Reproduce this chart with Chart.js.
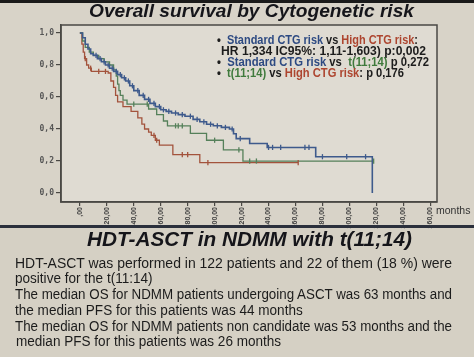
<!DOCTYPE html>
<html><head><meta charset="utf-8">
<script src="https://cdn.jsdelivr.net/npm/chart.js@4/dist/chart.umd.min.js"></script>
<style>
html,body{margin:0;padding:0;}
body{width:474px;height:357px;overflow:hidden;position:relative;background:#d8d3c8;font-family:"Liberation Sans",Arial,sans-serif;}
#top{position:absolute;left:0;top:0;width:474px;height:3px;background:#1a1a1a;}
#wrap{position:absolute;left:0;top:0;width:474px;height:232px;}
#sep{position:absolute;left:0;top:225px;width:474px;height:3px;background:#2b303c;}
#low{position:absolute;left:0;top:228px;width:474px;height:129px;background:#d5d0c4;}
.t{position:absolute;white-space:nowrap;line-height:1;color:#1c1c1c;transform-origin:0 0;}
.bi{font-weight:bold;font-style:italic;color:#15151a;}
.lg{font-weight:bold;}
.b{color:#2d4a82}.r{color:#ad452f}.g{color:#3f7a3c}
</style></head>
<body>
<div id="top"></div>
<div id="low"></div>
<div id="wrap"><canvas id="c" width="474" height="232"></canvas></div>
<div id="sep"></div>

<div class="t bi" data-w="325" data-x="89" data-b="17.5" data-fs="17.5">Overall survival by Cytogenetic risk</div>

<div class="t lg" data-w="201" data-x="217" data-b="44" data-fs="13">•&nbsp; <span class="b">Standard CTG risk</span> vs <span class="r">High CTG risk</span>:</div>
<div class="t lg" data-w="205" data-x="221" data-b="55" data-fs="13">HR 1,334 IC95%: 1,11-1,603) p:0,002</div>
<div class="t lg" data-w="212" data-x="217" data-b="66" data-fs="13">•&nbsp; <span class="b">Standard CTG risk</span> vs&nbsp; <span class="g">t(11;14)</span> p 0,272</div>
<div class="t lg" data-w="187" data-x="217" data-b="77" data-fs="13">•&nbsp; <span class="g">t(11;14)</span> vs <span class="r">High CTG risk</span>: p 0,176</div>

<div class="t" data-x="436" data-b="214" data-fs="10.5" style="color:#333">months</div>

<div class="t bi" data-w="325" data-x="87" data-b="247" data-fs="19.5">HDT-ASCT in NDMM with t(11;14)</div>
<div class="t full" data-w="437" data-x="15" data-b="268" data-fs="14">HDT-ASCT was performed in 122 patients and 22 of them (18 %) were</div>
<div class="t body" data-x="15" data-b="283" data-fs="14">positive for the t(11:14)</div>
<div class="t full" data-w="437" data-x="15" data-b="299" data-fs="14">The median OS for NDMM patients undergoing ASCT was 63 months and</div>
<div class="t body" data-x="15" data-b="315" data-fs="14">the median PFS for this patients was 44 months</div>
<div class="t full" data-w="437" data-x="15" data-b="331" data-fs="14">The median OS for NDMM patients non candidate was 53 months and the</div>
<div class="t body" data-x="16" data-b="346" data-fs="14">median PFS for this patients was 26 months</div>

<script>
// ---- data (months, survival) ----
const standardTimes = [0,2,4,6,8,10,13,16,19,22,25,28,31,34,37,40,44,48,52,56,60,64,68,73,78,84,89,94,99,105,111,114,116,126,139,175,217];
const standardSurv  = [1.0,0.97,0.93,0.90,0.87,0.86,0.84,0.82,0.80,0.78,0.76,0.74,0.72,0.70,0.67,0.64,0.61,0.585,0.56,0.54,0.52,0.51,0.50,0.49,0.48,0.46,0.445,0.43,0.42,0.41,0.40,0.37,0.34,0.31,0.285,0.227,0.0];
const t1114Times = [0,2,4,7,10,14,18,22,25,27,28,29,30,32,35,51,57,62,65,82,94,106.5,121,218];
const t1114Surv  = [1.0,0.95,0.91,0.88,0.86,0.84,0.82,0.80,0.77,0.73,0.68,0.64,0.61,0.58,0.555,0.525,0.49,0.45,0.42,0.373,0.33,0.27,0.20,0.20];
const highTimes = [0,1.5,2.5,3.5,5,6.5,8.5,21,23,25,26.5,28,32,38,43,46,48,51,53,56,59,69,89,162];
const highSurv  = [1.0,0.93,0.88,0.84,0.80,0.78,0.76,0.75,0.70,0.66,0.61,0.57,0.54,0.51,0.47,0.43,0.40,0.38,0.36,0.33,0.30,0.24,0.19,0.19];

// censoring marks (months, survival)
const standardCensTimes = [12,15,18,21,24,27,30,33,36,39,43,47,51,55,59,62,66,71,76,82,87,92,97,102,108,113,119,140,143,149,167,170,180,198,212];
const standardCensSurv  = [0.86,0.84,0.82,0.80,0.78,0.76,0.74,0.72,0.70,0.67,0.64,0.61,0.585,0.56,0.54,0.52,0.51,0.50,0.49,0.48,0.46,0.445,0.43,0.42,0.41,0.40,0.34,0.285,0.285,0.285,0.285,0.285,0.227,0.227,0.227];
const t1114CensTimes = [40,50,71,73,76,100,118,126,131,218];
const t1114CensSurv  = [0.555,0.555,0.42,0.42,0.42,0.33,0.27,0.20,0.20,0.20];
const highCensTimes = [4,8,14,19,55,57,76,80,95,162];
const highCensSurv  = [0.84,0.78,0.76,0.76,0.36,0.33,0.24,0.24,0.19,0.19];

// axis ticks
const xTickValues = [0,20,40,60,80,100,120,140,160,180,200,220,240,260];
const xTickLabels = [",00","20,00","40,00","60,00","80,00","100,00","120,00","140,00","160,00","180,00","200,00","220,00","240,00","260,00"];
const yTickValues = [0,0.2,0.4,0.6,0.8,1.0];
const yTickLabels = ["0,0","0,2","0,4","0,6","0,8","1,0"];

const seriesColors = {standard:'#3e5a8c', t1114:'#55805a', high:'#a3533c'};

const pts = (xs, ys) => xs.map((x,i)=>({x:x, y:ys[i]}));

function kmSet(label, xs, ys, color, w){
  return {label, data:pts(xs,ys), borderColor:color, borderWidth:w, stepped:true,
          pointRadius:0, fill:false, showLine:true, order:2};
}
function censSet(label, xs, ys, color){
  return {label, data:pts(xs,ys), borderColor:color, backgroundColor:color, showLine:false,
          pointStyle:'line', rotation:90, pointRadius:2.6, pointBorderWidth:1.3, pointHoverRadius:0, order:1};
}

const framePlugin = {
  id:'frame',
  beforeDraw(chart){
    const a = chart.chartArea, ctx = chart.ctx;
    ctx.save(); ctx.fillStyle = '#dfdbd2'; ctx.fillRect(a.left, a.top, a.right-a.left, a.bottom-a.top); ctx.restore();
  },
  afterDraw(chart){
    const a = chart.chartArea, ctx = chart.ctx;
    ctx.save(); ctx.strokeStyle = '#4a4844'; ctx.lineWidth = 1.5;
    ctx.strokeRect(a.left, a.top, a.right-a.left, a.bottom-a.top); ctx.restore();
  }
};

new Chart(document.getElementById('c'), {
  type:'line',
  data:{datasets:[
    kmSet('Standard CTG risk', standardTimes, standardSurv, seriesColors.standard, 1.6),
    kmSet('t(11;14)', t1114Times, t1114Surv, seriesColors.t1114, 1.3),
    kmSet('High CTG risk', highTimes, highSurv, seriesColors.high, 1.3),
    censSet('Standard censored', standardCensTimes, standardCensSurv, seriesColors.standard),
    censSet('t(11;14) censored', t1114CensTimes, t1114CensSurv, seriesColors.t1114),
    censSet('High censored', highCensTimes, highCensSurv, seriesColors.high)
  ]},
  options:{
    responsive:false, animation:false, devicePixelRatio:1,
    layout:{padding:{top:25,right:37,left:0,bottom:0}},
    plugins:{legend:{display:false}, title:{display:false}, tooltip:{enabled:false}},
    scales:{
      x:{type:'linear', min:-14, max:265,
         afterFit(s){ s.height = 30; },
         afterBuildTicks(s){ s.ticks = xTickValues.map(v=>({value:v})); },
         ticks:{autoSkip:false, minRotation:90, maxRotation:90, padding:1,
                font:{family:'"Liberation Sans Narrow","Liberation Sans", sans-serif', size:7, weight:'bold'}, color:'#444',
                callback:(v)=>{ const i = xTickValues.indexOf(v); return i>=0 ? xTickLabels[i] : ''; }},
         grid:{display:true, drawOnChartArea:false, drawTicks:true, tickLength:4, color:'#4a4844', lineWidth:1.2},
         border:{display:true, color:'#4a4844', width:1.5}},
      y:{type:'linear', min:-0.056, max:1.05,
         afterFit(s){ s.width = 61; },
         afterBuildTicks(s){ s.ticks = yTickValues.map(v=>({value:v})); },
         ticks:{autoSkip:false, padding:2,
                font:{family:'"DejaVu Sans Mono", monospace', size:8, weight:'bold'}, color:'#555',
                callback:(v)=>{ const i = yTickValues.findIndex(t=>Math.abs(t-v)<1e-6); return i>=0 ? yTickLabels[i] : ''; }},
         grid:{display:true, drawOnChartArea:false, drawTicks:true, tickLength:5, color:'#4a4844', lineWidth:1.2},
         border:{display:true, color:'#4a4844', width:1.5}}
    }
  },
  plugins:[framePlugin]
});

// text layout: font size from cap height, horizontal scale to target width, place by baseline
const texts = document.querySelectorAll('.t');
texts.forEach(el=>{ el.style.fontSize = el.dataset.fs+'px'; });
const fullScales = [];
texts.forEach(el=>{
  if (el.dataset.w){
    el._sx = parseFloat(el.dataset.w) / el.getBoundingClientRect().width;
    if (el.classList.contains('full')) fullScales.push(el._sx);
  }
});
const bodyScale = fullScales.reduce((a,b)=>a+b,0) / fullScales.length;
texts.forEach(el=>{
  const fs = parseFloat(el.dataset.fs);
  let sx = el._sx || 1;
  if (el.classList.contains('body')) sx = bodyScale;
  el.style.transform = 'scaleX(' + sx.toFixed(4) + ')';
  el.style.left = el.dataset.x+'px';
  el.style.top = (parseFloat(el.dataset.b) - 0.8465*fs)+'px';
});
</script>
</body></html>
